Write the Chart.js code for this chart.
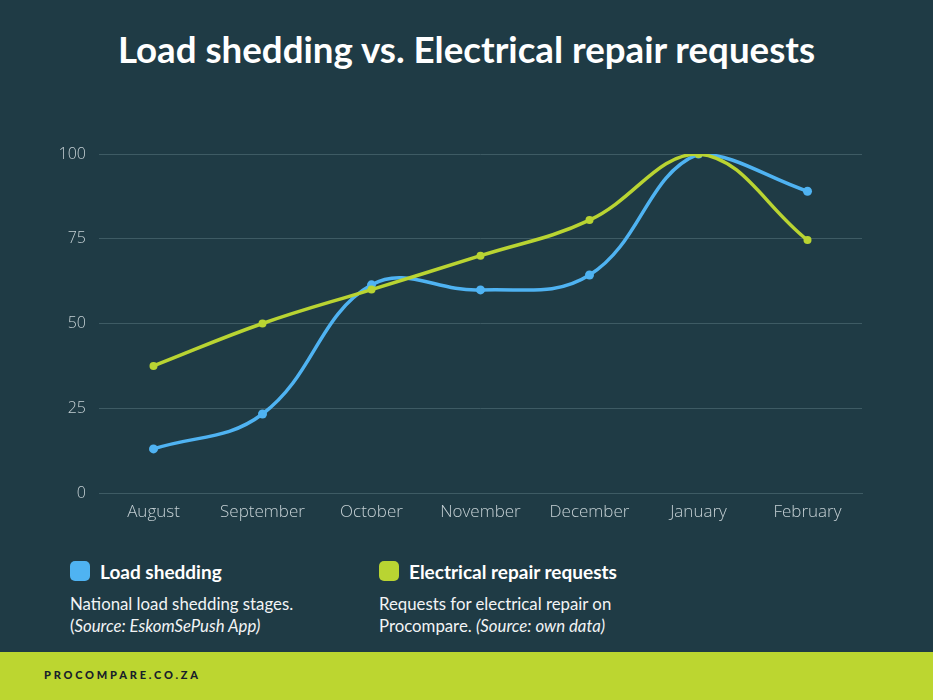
<!DOCTYPE html>
<html>
<head>
<meta charset="utf-8">
<script src="https://cdn.jsdelivr.net/npm/chart.js@4"></script>
<style>
  html,body{margin:0;padding:0;}
  body{width:933px;height:700px;background:#1f3b45;position:relative;overflow:hidden;font-family:Lato,sans-serif;}
  h1{position:absolute;left:0;top:27px;width:933px;margin:0;text-align:center;color:#fff;font:700 36.7px Lato,sans-serif;}
  #wrap{position:absolute;left:0;top:130px;width:933px;height:400px;}
  .leg{position:absolute;top:560px;color:#fff;}
  .leg .sw{position:absolute;left:0;top:1px;width:20px;height:20px;border-radius:5px;}
  .leg .nm{position:absolute;left:30px;top:0;font:700 19px Lato,sans-serif;white-space:nowrap;}
  .leg .ds{position:absolute;left:0;top:33px;font:400 16.8px Lato,sans-serif;line-height:22px;white-space:nowrap;color:#f2f4f5;}
  #foot{position:absolute;left:0;top:652px;width:933px;height:48px;background:#bcd630;}
  #foot span{position:absolute;left:44px;top:16px;font:900 11px Lato,sans-serif;letter-spacing:2.8px;color:#17202a;}
</style>
</head>
<body>
<h1>Load shedding vs. Electrical repair requests</h1>
<div id="wrap"><canvas id="chart"></canvas></div>
<div class="leg" style="left:70px">
  <div class="sw" style="background:#4fb3f2"></div>
  <div class="nm">Load shedding</div>
  <div class="ds">National load shedding stages.<br>(<i>Source: EskomSePush App)</i></div>
</div>
<div class="leg" style="left:379px">
  <div class="sw" style="background:#b9d432"></div>
  <div class="nm">Electrical repair requests</div>
  <div class="ds">Requests for electrical repair on<br>Procompare. <i>(Source: own data)</i></div>
</div>
<div id="foot"><span>PROCOMPARE.CO.ZA</span></div>
<script>
const months = ['August','September','October','November','December','January','February'];
const loadShedding = [13, 23.3, 61.4, 59.9, 64.3, 100, 89];
const repairRequests = [37.5, 50, 60, 70, 80.5, 100, 74.6];
const yTicks = [0, 25, 50, 75, 100];

const tickColor = '#c5d0d4';
const gridColor = '#3e5b64';

new Chart(document.getElementById('chart'), {
  type:'line',
  data:{
    labels: months,
    datasets:[
      {label:'Electrical repair requests', data:repairRequests, borderColor:'#b9d432', backgroundColor:'#b9d432',
       borderWidth:3.5, pointRadius:4, pointBorderWidth:0, tension:0.4, fill:false},
      {label:'Load shedding', data:loadShedding, borderColor:'#4fb3f2', backgroundColor:'#4fb3f2',
       borderWidth:3.5, pointRadius:4.5, pointBorderWidth:0, tension:0.4, fill:false}
    ]
  },
  options:{
    responsive:true,
    maintainAspectRatio:false,
    animation:false,
    layout:{padding:{top:24,right:71,bottom:7,left:0}},
    plugins:{legend:{display:false},tooltip:{enabled:false}},
    scales:{
      x:{
        offset:true,
        grid:{display:false,drawTicks:false},
        border:{display:true,color:gridColor,width:1},
        ticks:{color:tickColor,padding:9,font:{family:'Open Sans',size:17,weight:300}},
        afterFit:s=>{s.height=30;}
      },
      y:{
        min:0,max:100,
        afterBuildTicks:s=>{s.ticks=yTicks.map(v=>({value:v}));},
        grid:{color:gridColor,drawTicks:false,lineWidth:1},
        border:{display:false},
        ticks:{color:tickColor,padding:13,font:{family:'Open Sans',size:16,weight:300}},
        afterFit:s=>{s.width=99;}
      }
    }
  }
});
</script>
</body>
</html>
